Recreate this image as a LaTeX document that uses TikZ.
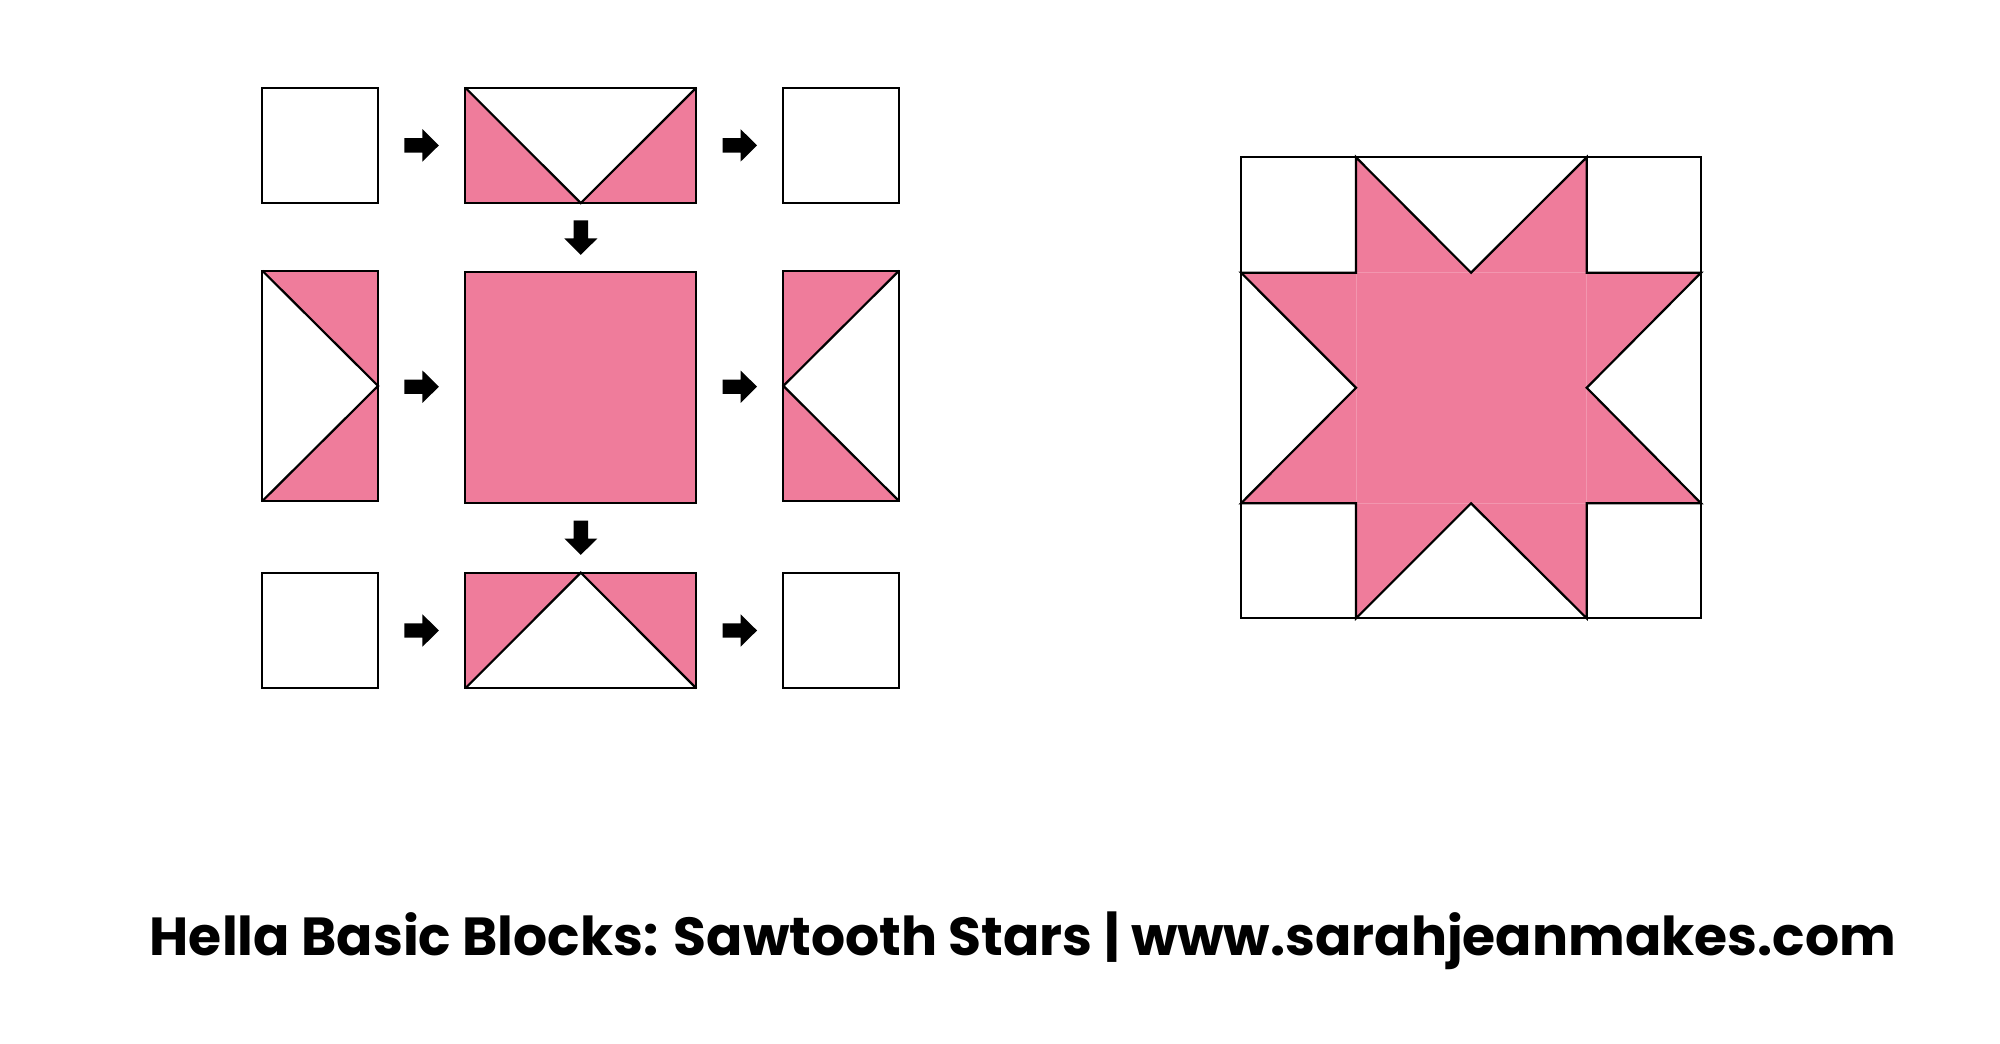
\documentclass[tikz,border=0pt]{standalone}
\usepackage{fontspec}
\newfontfamily\titlefont{Poppins}
\usetikzlibrary{calc}
\definecolor{quiltpink}{RGB}{239,124,155}
\tikzset{
  patch/.style={draw=black, line width=1.1pt, fill=white, inner sep=0pt, outer sep=0pt},
  seam/.style={draw=black, line width=1.1pt, line join=miter},
  pinkfill/.style={fill=quiltpink},
  blockarrow/.style={fill=black},
  rarr/.pic={\fill[blockarrow] (-17.2,-7.2) -- (0.8,-7.2) -- (0.8,-16.2) -- (17.2,0) -- (0.8,16.2) -- (0.8,7.2) -- (-17.2,7.2) -- cycle;},
  darr/.pic={\fill[blockarrow] (-7.2,-17.2) -- (7.2,-17.2) -- (7.2,0.8) -- (16.5,0.8) -- (0,17.2) -- (-16.5,0.8) -- (-7.2,0.8) -- cycle;}
}
\begin{document}
\begin{tikzpicture}[x=0.5pt,y=-0.5pt]
\useasboundingbox (0,0) rectangle (2000,1043);
% ---- top row
\node[patch, minimum width=57.85pt, minimum height=57.65pt] (tl) at (320.2,145.4) {};
\node[patch, minimum width=115.5pt, minimum height=57.65pt] (tm) at (580.8,145.4) {};
\node[patch, minimum width=57.85pt, minimum height=57.65pt] (tr) at (841.2,145.4) {};
\fill[pinkfill] (tm.north west) -- (tm.south) -- (tm.south west) -- cycle;
\fill[pinkfill] (tm.north east) -- (tm.south) -- (tm.south east) -- cycle;
\draw[seam] (tm.north west) -- (tm.south) -- (tm.north east);
\draw[patch, fill=none] (tm.north west) rectangle (tm.south east);
% ---- middle row
\node[patch, minimum width=57.85pt, minimum height=115.15pt] (ml) at (320.2,385.9) {};
\node[patch, fill=quiltpink, minimum width=115.5pt, minimum height=115.2pt] (mc) at (580.8,387.5) {};
\node[patch, minimum width=57.85pt, minimum height=115.15pt] (mr) at (841.2,385.9) {};
\fill[pinkfill] (ml.north west) -- (ml.north east) -- (ml.east) -- cycle;
\fill[pinkfill] (ml.south west) -- (ml.east) -- (ml.south east) -- cycle;
\draw[seam] (ml.north west) -- (ml.east) -- (ml.south west);
\draw[patch, fill=none] (ml.north west) rectangle (ml.south east);
\fill[pinkfill] (mr.north west) -- (mr.north east) -- (mr.west) -- cycle;
\fill[pinkfill] (mr.south west) -- (mr.west) -- (mr.south east) -- cycle;
\draw[seam] (mr.north east) -- (mr.west) -- (mr.south east);
\draw[patch, fill=none] (mr.north west) rectangle (mr.south east);
% ---- bottom row
\node[patch, minimum width=57.85pt, minimum height=57.8pt] (bl) at (320.2,630.5) {};
\node[patch, minimum width=115.5pt, minimum height=57.8pt] (bm) at (580.8,630.5) {};
\node[patch, minimum width=57.85pt, minimum height=57.8pt] (br) at (841.2,630.5) {};
\fill[pinkfill] (bm.north west) -- (bm.north) -- (bm.south west) -- cycle;
\fill[pinkfill] (bm.north) -- (bm.north east) -- (bm.south east) -- cycle;
\draw[seam] (bm.south west) -- (bm.north) -- (bm.south east);
\draw[patch, fill=none] (bm.north west) rectangle (bm.south east);
% ---- arrows
\pic at ($(tl.east)!0.5!(tm.west)$) {rarr};
\pic at ($(tm.east)!0.5!(tr.west)$) {rarr};
\pic at ($(ml.east)!0.5!(mc.west)$) {rarr};
\pic at ($(mc.east)!0.5!(mr.west)$) {rarr};
\pic at ($(bl.east)!0.5!(bm.west)$) {rarr};
\pic at ($(bm.east)!0.5!(br.west)$) {rarr};
\pic at ($(tm.south)!0.5!(mc.north)$) {darr};
\pic at ($(mc.south)!0.5!(bm.north)$) {darr};
% ---- finished star block
\node[patch, minimum width=230pt, minimum height=230.5pt] (star) at (1471,387.8) {};
\fill[quiltpink] (1356,157.3) -- (1471,272.7) -- (1586.7,157.3) -- (1586.7,272.7) -- (1701,272.7)
  -- (1586.7,387.8) -- (1701,503.3) -- (1586.7,503.3) -- (1586.7,618.3) -- (1471,503.3)
  -- (1356,618.3) -- (1356,503.3) -- (1241,503.3) -- (1356,387.8) -- (1241,272.7) -- (1356,272.7) -- cycle;
\draw[quiltpink!80!white, line width=0.4pt] (1356,272.7) rectangle (1586.7,503.3);
\draw[seam] (1356,157.3) -- (1471,272.7) -- (1586.7,157.3) -- (1586.7,272.7) -- (1701,272.7)
  -- (1586.7,387.8) -- (1701,503.3) -- (1586.7,503.3) -- (1586.7,618.3) -- (1471,503.3)
  -- (1356,618.3) -- (1356,503.3) -- (1241,503.3) -- (1356,387.8) -- (1241,272.7) -- (1356,272.7) -- cycle;
\draw[patch, fill=none] (star.north west) rectangle (star.south east);
% ---- caption
\node[anchor=base, inner sep=0pt] (caption) at (1023,955) {\titlefont\bfseries\fontsize{26.8pt}{30pt}\selectfont Hella Basic Blocks: Sawtooth Stars | www.sarahjeanmakes.com};
\end{tikzpicture}
\end{document}
